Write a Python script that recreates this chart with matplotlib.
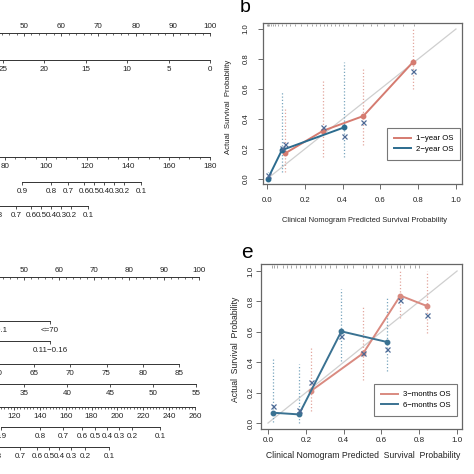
import matplotlib
matplotlib.use("Agg")
import numpy as np
import matplotlib.pyplot as plt
from matplotlib.ticker import FixedLocator

plt.rcParams["font.family"] = ["Liberation Sans", "DejaVu Sans"]

W = H = 474
LEFT = -45   # nomogram strips start off-canvas, the figure is a crop
PANEL = 215  # right edge of the cropped nomogram strip (px)

# ---- nomogram fragments (left) ----
top_points = [0, 10, 20, 30, 40, 50, 60, 70, 80, 90, 100]
top_var1 = [30, 25, 20, 15, 10, 5, 0]
top_var2 = [60, 80, 100, 120, 140, 160, 180]
top_surv1 = ["0.9", "0.8", "0.7", "0.6", "0.5", "0.4", "0.3", "0.2", "0.1"]
top_surv1_at = [22, 51, 68, 84, 94, 104, 114, 124, 141]
top_surv2 = ["0.9", "0.8", "0.7", "0.6", "0.5", "0.4", "0.3", "0.2", "0.1"]
top_surv2_at = [-30, -3, 16, 31, 41, 51, 61, 71, 88]

bot_points = [0, 10, 20, 30, 40, 50, 60, 70, 80, 90, 100]
bot_cat1 = ["0\u22120.1", "<=70"]
bot_cat1_at = [42.6, 57.4]
bot_cat2 = [">0.16", "0.11\u22120.16"]
bot_cat2_at = [30.0, 57.4]
bot_var3 = [55, 60, 65, 70, 75, 80, 85]
bot_var4 = [25, 30, 35, 40, 45, 50, 55]
bot_var5 = [80, 100, 120, 140, 160, 180, 200, 220, 240, 260]
bot_surv1 = ["0.9", "0.8", "0.7", "0.6", "0.5", "0.4", "0.3", "0.2", "0.1"]
bot_surv1_at = [1, 40, 63, 82, 95, 107, 119, 132, 160]
bot_surv2 = ["0.8", "0.7", "0.6", "0.5", "0.4", "0.3", "0.2", "0.1"]
bot_surv2_at = [-4, 20, 37, 49, 59, 71, 85, 109]

# ---- calibration curves ----
b_red_pred = [0.097, 0.297, 0.51, 0.773]
b_red_obs = [0.172, 0.322, 0.42, 0.78]
b_red_corr = [0.235, 0.35, 0.38, 0.72]
b_red_lo = [0.05, 0.15, 0.23, 0.60]
b_red_hi = [0.47, 0.67, 0.75, 1.00]
b_blue_pred = [0.005, 0.079, 0.41]
b_blue_obs = [0.003, 0.193, 0.345]
b_blue_corr = [0.025, 0.21, 0.29]
b_blue_lo = [0.0, 0.05, 0.15]
b_blue_hi = [0.05, 0.59, 0.78]
b_rug = [0.0, 0.004, 0.008, 0.012, 0.02, 0.03, 0.045, 0.06, 0.08, 0.1, 0.12,
         0.15, 0.18, 0.21, 0.24, 0.26, 0.28, 0.3, 0.32, 0.34, 0.36, 0.38,
         0.4, 0.43, 0.47, 0.51, 0.55, 0.58, 0.62, 0.67, 0.72, 0.78]

e_red_pred = [0.226, 0.504, 0.70, 0.84]
e_red_obs = [0.21, 0.46, 0.838, 0.77]
e_red_corr = [0.27, 0.46, 0.807, 0.708]
e_red_lo = [0.08, 0.28, 0.69, 0.59]
e_red_hi = [0.50, 0.76, 1.00, 1.00]
e_blue_pred = [0.028, 0.164, 0.388, 0.63]
e_blue_obs = [0.068, 0.057, 0.603, 0.533]
e_blue_corr = [0.11, 0.088, 0.572, 0.485]
e_blue_lo = [0.01, 0.0, 0.41, 0.34]
e_blue_hi = [0.43, 0.39, 0.88, 0.83]
e_rug = [0.02, 0.03, 0.05, 0.08, 0.1, 0.12, 0.15, 0.17, 0.2, 0.22, 0.25,
         0.28, 0.3, 0.33, 0.36, 0.4, 0.42, 0.45, 0.5, 0.52, 0.55, 0.58,
         0.62, 0.65, 0.68, 0.7, 0.72, 0.75, 0.78, 0.8]

RED = "#d57b70"
BLUE = "#2b6b8e"
RED_DOT = "#e3a79f"
BLUE_DOT = "#7aa6bf"
XCOL = "#4d6a96"
INK = "#333333"

fig = plt.figure(figsize=(W / 100, H / 100), dpi=100)


def lim_from(v1, p1, v2, p2):
    s = (p2 - p1) / (v2 - v1)
    return v1 + (LEFT - p1) / s, v1 + (PANEL - p1) / s


def nomo_axis(yline, lim, ticks, labels=None, bounds=None, minor=None, top=False):
    h = 8
    x0, w = LEFT / W, (PANEL - LEFT) / W
    if top:
        ax = fig.add_axes([x0, 1 - (yline + h) / H, w, h / H])
    else:
        ax = fig.add_axes([x0, 1 - yline / H, w, h / H])
    ax.patch.set_visible(False)
    side = "top" if top else "bottom"
    for k, sp in ax.spines.items():
        sp.set_visible(k == side)
    ax.spines[side].set_linewidth(0.7)
    ax.spines[side].set_color(INK)
    if bounds is None:
        bounds = (min(ticks), max(ticks))
    ax.spines[side].set_bounds(*bounds)
    ax.set_yticks([])
    ax.set_xticks(ticks)
    if labels is not None:
        ax.set_xticklabels(labels)
    if minor:
        ax.xaxis.set_minor_locator(
            FixedLocator(np.arange(min(bounds), max(bounds) + 1e-9, minor)))
    ax.set_xlim(*lim)  # after set_xticks, which would widen the view
    if top:
        ax.xaxis.tick_top()
        ax.tick_params(axis="x", which="both", direction="in", pad=2)
    else:
        ax.tick_params(axis="x", which="both", direction="out", pad=1.5)
    ax.tick_params(axis="x", which="major", length=2.5, width=0.6,
                   color=INK, labelsize=5.8, labelcolor="#222222")
    ax.tick_params(axis="x", which="minor", length=1.3, width=0.5, color=INK)
    return ax


# top nomogram
nomo_axis(33, lim_from(50, 24, 100, 210), top_points, minor=2, top=True)
nomo_axis(60, lim_from(25, 3, 0, 210), top_var1)
nomo_axis(157, lim_from(100, 46, 180, 210), top_var2, minor=5)
nomo_axis(182, (LEFT, PANEL), top_surv1_at, top_surv1)
nomo_axis(206, (LEFT, PANEL), top_surv2_at, top_surv2)

# bottom nomogram
pts_lim = lim_from(50, 24, 100, 199)
nomo_axis(277, pts_lim, bot_points, minor=2, top=True)
nomo_axis(321, pts_lim, bot_cat1_at, bot_cat1, bounds=(pts_lim[0], bot_cat1_at[-1]))
nomo_axis(341, pts_lim, bot_cat2_at, bot_cat2)
nomo_axis(364, lim_from(65, 34, 85, 179), bot_var3)
nomo_axis(384, lim_from(35, 24, 55, 196), bot_var4)
nomo_axis(407, lim_from(120, 14, 260, 195), bot_var5, minor=2.5)
nomo_axis(427, (LEFT, PANEL), bot_surv1_at, bot_surv1)
nomo_axis(447, (LEFT, PANEL), bot_surv2_at, bot_surv2)


def calib(rect, xlim, ylim, rug, series, legend_xy, tick_pad, tick_font):
    ax = fig.add_axes(rect)
    ax.set_xlim(*xlim)
    ax.set_ylim(*ylim)
    ax.plot([0, 1], [0, 1], color="#cfcfcf", lw=0.9, zorder=1)
    ax.vlines(rug, 1.02, ylim[1] - 0.005, color="#9a9a9a", lw=0.6, zorder=1)
    for pred, obs, corr, lo, hi, col, dcol, lab in series:
        ax.vlines(pred, lo, hi, color=dcol, lw=0.9, linestyles=(0, (1, 1.6)), zorder=2)
        ax.plot(pred, obs, color=col, lw=1.4, marker="o", ms=3.2, label=lab, zorder=3)
        ax.plot(pred, corr, ls="none", marker="x", ms=3.6, mew=0.9, color=XCOL, zorder=4)
    ax.set_xticks([0, 0.2, 0.4, 0.6, 0.8, 1.0])
    ax.set_yticks([0, 0.2, 0.4, 0.6, 0.8, 1.0])
    ax.set_xticklabels(["0.0", "0.2", "0.4", "0.6", "0.8", "1.0"])
    ax.set_yticklabels(["0.0", "0.2", "0.4", "0.6", "0.8", "1.0"],
                       rotation=90, va="center")
    ax.set_xlim(*xlim)
    ax.set_ylim(*ylim)
    ax.tick_params(length=3.5, width=0.6, color="#555555", labelsize=tick_font,
                   labelcolor="#222222")
    ax.tick_params(axis="x", pad=tick_pad[0])
    ax.tick_params(axis="y", pad=tick_pad[1])
    for sp in ax.spines.values():
        sp.set_color("#666666")
        sp.set_linewidth(0.9)
    leg = ax.legend(loc="upper left", bbox_to_anchor=legend_xy, fontsize=5.6,
                    frameon=True, fancybox=False, handlelength=2.2,
                    borderpad=0.9, labelspacing=0.4, handletextpad=0.6,
                    borderaxespad=0)
    leg.get_frame().set_edgecolor("#555555")
    leg.get_frame().set_linewidth(0.8)
    for ln in leg.get_lines():
        ln.set_marker("")
    return ax


calib([263 / W, 1 - 184 / H, 199 / W, 161 / H], (-0.021, 1.032), (-0.033, 1.04), b_rug,
      [(b_red_pred, b_red_obs, b_red_corr, b_red_lo, b_red_hi, RED, RED_DOT, "1\u2212year OS"),
       (b_blue_pred, b_blue_obs, b_blue_corr, b_blue_lo, b_blue_hi, BLUE, BLUE_DOT, "2\u2212year OS")],
      (0.623, 0.348), (6, 6), 5.6)
fig.text(364 / W, 1 - 221 / H, "Clinical Nomogram Predicted Survival Probability",
         ha="center", va="center", fontsize=5.4, color="#222222")
fig.text(228 / W, 1 - 107 / H, "Actual  Survival  Probability", rotation=90,
         ha="center", va="center", fontsize=5.6, color="#222222")
fig.text(245 / W, 1 - 8 / H, "b", ha="center", va="center", fontsize=14)

calib([261 / W, 1 - 429 / H, 201 / W, 165 / H], (-0.037, 1.026), (-0.039, 1.046), e_rug,
      [(e_red_pred, e_red_obs, e_red_corr, e_red_lo, e_red_hi, "#d98a80", RED_DOT, "3\u2212months OS"),
       (e_blue_pred, e_blue_obs, e_blue_corr, e_blue_lo, e_blue_hi, "#3a7292", BLUE_DOT, "6\u2212months OS")],
      (0.562, 0.273), (2, 1), 5.8)
fig.text(363 / W, 1 - 456 / H, "Clinical Nomogram Predicted  Survival  Probability",
         ha="center", va="center", fontsize=6.2, color="#222222")
fig.text(235 / W, 1 - 349 / H, "Actual  Survival  Probability", rotation=90,
         ha="center", va="center", fontsize=6.2, color="#222222")
fig.text(247 / W, 1 - 252 / H, "e", ha="center", va="center", fontsize=15)

fig.savefig("out.png", dpi=100)
